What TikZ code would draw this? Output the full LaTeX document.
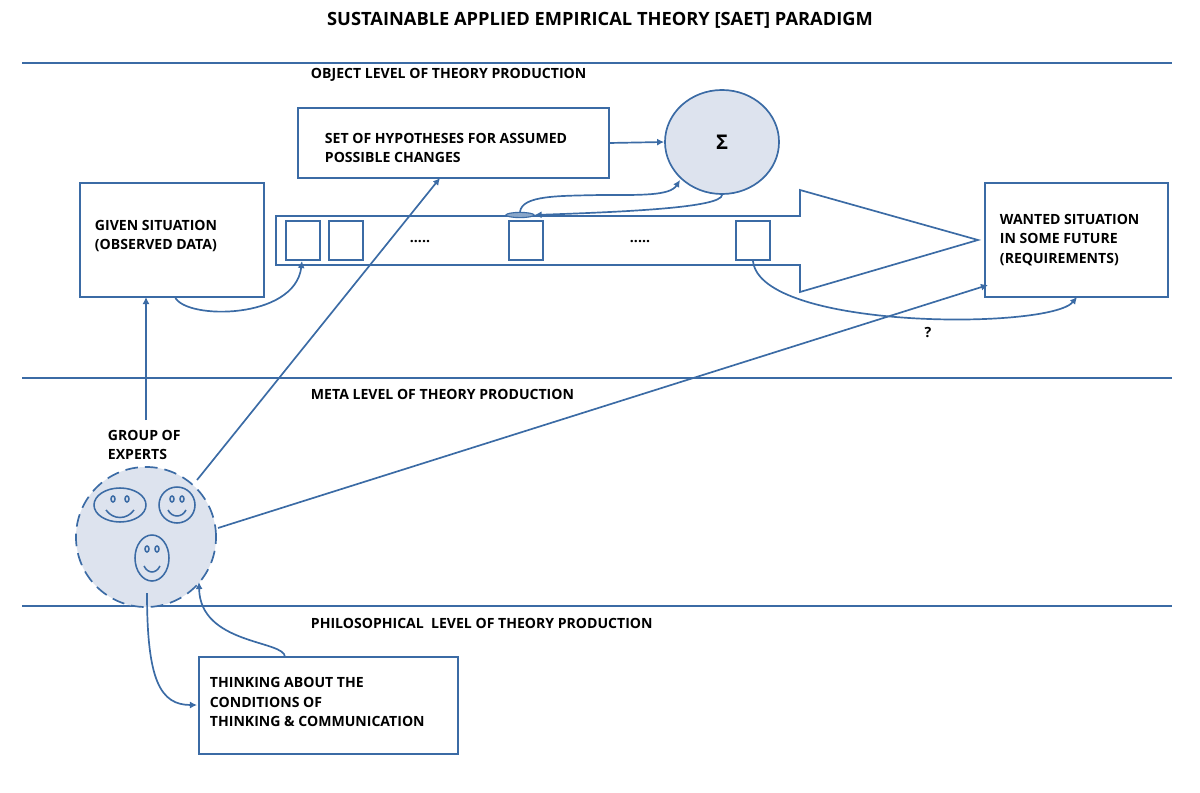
\documentclass[tikz,border=0pt]{standalone}
\usepackage{fontspec}
\setmainfont{Open Sans}
\usetikzlibrary{arrows.meta,positioning,shapes.geometric}
\definecolor{saetblue}{HTML}{3B6BA5}
\definecolor{saetfill}{HTML}{DDE3EE}
\begin{document}
\begin{tikzpicture}[x=0.025cm,y=-0.025cm,
box/.style={rectangle, draw=saetblue, line width=1.2pt},
lbl/.style={font=\bfseries\fontsize{10}{14}\selectfont, align=left},
conn/.style={draw=saetblue, line width=1.2pt, -{Latex[length=5pt,width=5pt]}},
face/.style={draw=saetblue, line width=1.1pt},
]
\useasboundingbox (0,0) rectangle (1200,793);

\node at (600,20) [font=\bfseries\fontsize{13}{15}\selectfont](title){SUSTAINABLE APPLIED EMPIRICAL THEORY [SAET] PARADIGM};

% level lines
\foreach \y in {63,378,606} \draw[saetblue, line width=1.2pt] (22,\y) -- (1172,\y);
\node at (306,75) [lbl,anchor=west](objlevel){OBJECT LEVEL OF THEORY PRODUCTION};
\node at (306,394) [lbl,anchor=west](metalevel){META LEVEL OF THEORY PRODUCTION};
\node at (306,623) [lbl,anchor=west](philolevel){PHILOSOPHICAL\ \ LEVEL OF THEORY PRODUCTION};

% object level
\draw[box] (298,108) rectangle (609,178);
\node at (320,148) [lbl,anchor=west](hyp){SET OF HYPOTHESES FOR ASSUMED\\POSSIBLE CHANGES};
\coordinate (hypbottom) at (440,178);
\coordinate (hypright) at (609,143);

\node at (722,142) [ellipse, draw=saetblue, fill=saetfill, line width=1.2pt, minimum width=2.85cm, minimum height=2.6cm](sigma){\bfseries\Large Σ};

\draw[box] (80,183) rectangle (264,297);
\node at (90,236) [lbl,anchor=west](given){GIVEN SITUATION\\(OBSERVED DATA)};

\draw[box] (985,183) rectangle (1168,297);
\node at (995,240) [lbl,anchor=west](wanted){WANTED SITUATION\\IN SOME FUTURE\\(REQUIREMENTS)};

\draw[saetblue, line width=1.2pt] (276,216) -- (800,216) -- (800,190) -- (978,240)
  -- (800,292) -- (800,265) -- (276,265) -- cycle;
\foreach \x/\n in {286/a,329/b,509/c,736/d}
  \draw[box] (\x,221) rectangle ++(34,39) coordinate (step\n);
\node at (420,242) [font=\bfseries](dotsa){.....};
\node at (640,242) [font=\bfseries](dotsb){.....};
\node at (520,215) [ellipse, draw=saetblue, fill=saetblue!60, line width=0.8pt, minimum width=0.7cm, minimum height=0.13cm, inner sep=0pt](eval){};

\draw[conn] (eval.north) .. controls (522,195) and (560,196) .. (600,195) .. controls (640,195) and (670,196) .. (680,180);
\draw[conn] (sigma.south) .. controls (722,208) and (620,212) .. (eval.east);
\draw[conn] (175,297) .. controls (185,320) and (295,320) .. (302,261);
\draw[conn] (753,261) .. controls (760,330) and (1050,330) .. (1077,297);
\draw[conn] (hypright) -- (sigma.west);
\node at (928,333) [font=\bfseries](quest){?};

% meta level
\node at (103,445) [lbl,anchor=west](grouplbl){GROUP OF\\EXPERTS};
\node at (146,537) [circle, draw=saetblue, fill=saetfill, dash pattern=on 9pt off 5pt, line width=1.2pt, minimum size=3.5cm](experts){};
\draw[face] (120,505) ellipse (26 and 17) (177,505) ellipse (18 and 18) (152,558) ellipse (17 and 23);
\foreach \ex/\ey in {113/499,127/499,172/499,182/499,147/549,157/549}
  \draw[face] (\ex,\ey) ellipse (2 and 3);
\draw[face] (106,510) .. controls (113,520) and (127,520) .. (134,510);
\draw[face] (168,510) .. controls (172,518) and (182,518) .. (186,510);
\draw[face] (144,566) .. controls (148,574) and (156,574) .. (160,566);

\draw[conn] (146,420) -- (146,297);
\draw[conn] (197,480) -- (hypbottom);
\draw[conn] (218,528) -- (988,285);

% philosophical level
\draw[box] (199,657) rectangle (458,754);
\node at (205,702) [lbl,anchor=west](thinking){THINKING ABOUT THE\\CONDITIONS OF\\THINKING \& COMMUNICATION};
\draw[conn] (147,593) .. controls (147,680) and (160,705) .. (197,705);
\draw[conn] (285,657) .. controls (285,640) and (200,645) .. (199,582);
\end{tikzpicture}
\end{document}
